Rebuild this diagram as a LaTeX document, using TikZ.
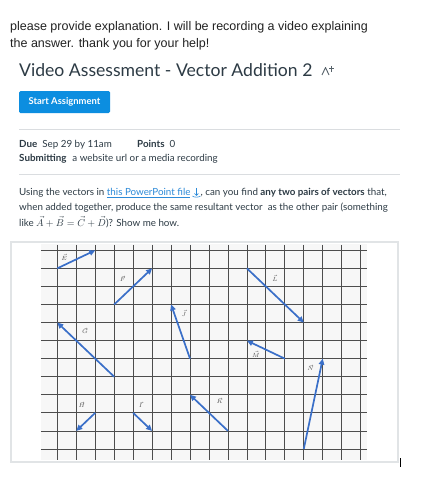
\documentclass[tikz,border=0pt]{standalone}
\usepackage{fontspec}
\usepackage{amsmath}
\setmainfont{Lato}
\newfontfamily\postfont{Liberation Sans}
\usetikzlibrary{arrows.meta,positioning}

\definecolor{posttext}{HTML}{222222}
\definecolor{pagetext}{HTML}{2D3B45}
\definecolor{linkblue}{HTML}{2C8AD8}
\definecolor{btnblue}{HTML}{0C8EE0}
\definecolor{rulegrey}{HTML}{DADDE0}
\definecolor{gridgrey}{HTML}{4D4D4D}
\definecolor{vecblue}{HTML}{3A6FC8}
\definecolor{lblgrey}{HTML}{555555}

% download icon after the link
\newcommand{\dlicon}{\tikz[baseline=0pt,x=1pt,y=1pt]{%
  \draw[linkblue,line width=0.6pt] (0,-0.8) .. controls (1.5,-2.2) and (6.5,-2.2) .. (8,-0.8);
  \draw[linkblue,line width=0.6pt,-{Straight Barb[length=2pt,width=4pt]}] (4,7.5) -- (4,-0.6);}}

\begin{document}
\begin{tikzpicture}[x=1pt,y=-1pt,
    posttxt/.style={font=\postfont\fontsize{12.5}{15}\selectfont, text=posttext, anchor=base west, inner sep=0pt},
    pagetxt/.style={font=\fontsize{9.8}{11}\selectfont, text=pagetext, anchor=base west, inner sep=0pt,
      text height=7pt, text depth=2pt},
    divider/.style={draw=rulegrey, line width=0.8pt},
    gridline/.style={draw=gridgrey, line width=0.8pt},
    vec/.style={draw=vecblue, line width=1.7pt, -{Triangle[length=6pt,width=5.5pt]}},
    veclbl/.style={font=\fontsize{5.8}{6}\selectfont, text=lblgrey, inner sep=0pt}]
\useasboundingbox (0,0) rectangle (433,487);
\fill[white] (0,0) rectangle (433,487);

% question
\node[posttxt] (post1) at (10,30.5) {please provide explanation. I will be recording a video explaining};
\node[posttxt] (post2) at (10,47.5) {the answer. thank you for your help!};

% header
\node[pagetxt, font=\fontsize{17.6}{20}\selectfont, text height=12.5pt, text depth=3.5pt] (title) at (19,76.5) {Video Assessment - Vector Addition 2};
\draw[pagetext!80, line width=0.9pt, line join=round] (322,75) -- (325.5,67.5) -- (329,75); % icon
\draw[pagetext!80, line width=0.9pt] (331.5,66) -- (331.5,71.5) (329,68.7) -- (334,68.7);
\node[fill=btnblue, text=white, font=\bfseries\fontsize{9.4}{10}\selectfont, minimum width=91pt, minimum height=22pt,
  rounded corners=1.5pt, inner sep=0pt] (start) at (64.5,102) {Start Assignment};

\draw[divider] (19,129.3) -- (400,129.3);
\node[pagetxt] (due) at (19,147.5) {\textbf{Due}\hspace{5pt}Sep 29 by 11am};
\node[pagetxt] (points) at (137,147.5) {\textbf{Points}\hspace{5pt}0};
\node[pagetxt] (submit) at (19,161.7) {\textbf{Submitting}\hspace{6pt}a website url or a media recording};
\draw[divider] (19,174) -- (400,174);

% instructions
\node[pagetxt] (para1) at (19,195.3) {Using the vectors in \textcolor{linkblue}{\underline{this PowerPoint file}}\,\dlicon, can you find \textbf{any two pairs of vectors} that,};
\node[pagetxt] (para2) at (19,210.7) {when added together, produce the same resultant vector\ \ as the other pair (something};
\node[pagetxt] (para3) at (19,226) {like $\vec{A}+\vec{B}=\vec{C}+\vec{D}$)? Show me how.};

% picture frame
\draw[draw=rulegrey!80, line width=1.2pt, fill=white] (11,242) rectangle (398,462);
\fill[black!3] (41,244) rectangle (367,460);

\begin{scope}[shift={(57.3,250.3)}, x=18.96pt, y=-18.06pt]
  \foreach \c in {0,...,16}
    \draw[gridline] (\c,-0.3) -- (\c,11.6);
  \foreach \r in {0,...,11}
    \draw[gridline] (-0.86,\r) -- (16.33,\r);

  \coordinate (E0) at (0,1);   \coordinate (E1) at (2,0);
  \coordinate (F0) at (3,3);   \coordinate (F1) at (5,1);
  \coordinate (J0) at (7,6);   \coordinate (J1) at (6,3);
  \coordinate (G0) at (3,7);   \coordinate (G1) at (0,4);
  \coordinate (H0) at (2,9);   \coordinate (H1) at (1,10);
  \coordinate (I0) at (4,9);   \coordinate (I1) at (5,10);
  \coordinate (K0) at (9,10);  \coordinate (K1) at (7,8);
  \coordinate (L0) at (10,1);  \coordinate (L1) at (13,4);
  \coordinate (M0) at (12,6);  \coordinate (M1) at (10,5);
  \coordinate (N0) at (13,11); \coordinate (N1) at (14,6);

  \draw[vec] (E0) -- (E1); % E
  \draw[vec] (F0) -- (F1); % F
  \draw[vec] (J0) -- (J1); % J
  \draw[vec] (G0) -- (G1); % G
  \draw[vec] (H0) -- (H1); % H
  \draw[vec] (I0) -- (I1); % I
  \draw[vec] (K0) -- (K1); % K
  \draw[vec] (L0) -- (L1); % L
  \draw[vec] (M0) -- (M1); % M
  \draw[vec] (N0) -- (N1); % N

  \node[veclbl] (lblE) at (0.37,0.39) {$\vec{E}$};
  \node[veclbl] (lblF) at (3.45,1.59) {$\vec{F}$};
  \node[veclbl] (lblJ) at (6.68,3.49) {$\vec{J}$};
  \node[veclbl] (lblG) at (1.46,4.47) {$\vec{G}$};
  \node[veclbl] (lblH) at (1.29,8.57) {$\vec{H}$};
  \node[veclbl] (lblI) at (4.40,8.57) {$\vec{I}$};
  \node[veclbl] (lblK) at (8.58,8.34) {$\vec{K}$};
  \node[veclbl] (lblL) at (11.48,1.55) {$\vec{L}$};
  \node[veclbl] (lblM) at (10.48,5.76) {$\vec{M}$};
  \node[veclbl] (lblN) at (13.36,6.50) {$\vec{N}$};
\end{scope}

\draw[line width=0.9pt] (400,458) -- (400,467); % cursor
\end{tikzpicture}
\end{document}
